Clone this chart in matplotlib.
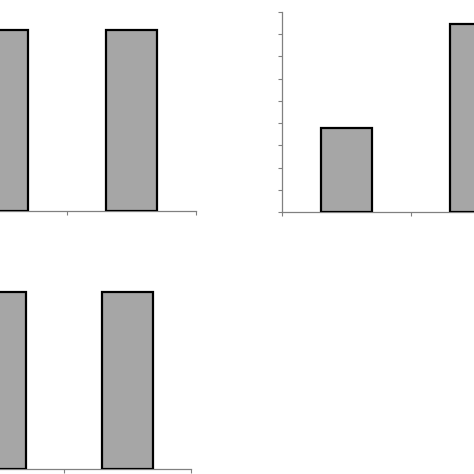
import matplotlib.pyplot as plt

# values (no labels visible, scale 0-9 as on the visible y axis)
categories = [0.5, 1.5]
top_left = [8.15, 8.15]
top_right = [3.78, 8.45]
bottom_left = [8.09, 8.09]

fig = plt.figure(figsize=(4.74, 4.74), dpi=100)

W = 474.0
# axes placed in pixel units; the figure crops the left part of the left panels
panels = [
    (top_left, [-62 / W, (W - 211) / W, 258 / W, 200 / W]),
    (top_right, [282 / W, (W - 212) / W, 258 / W, 200 / W]),
    (bottom_left, [-63 / W, (W - 469) / W, 254 / W, 197 / W]),
]

for values, rect in panels:
    ax = fig.add_axes(rect)
    ax.bar(categories, values, width=0.4, color='#a6a6a6', edgecolor='black', linewidth=1.6, zorder=3)
    ax.set_xlim(0, 2)
    ax.set_ylim(0, 9)
    ax.set_xticks([0, 1, 2])
    ax.set_yticks(range(10))
    ax.set_xticklabels([])
    ax.set_yticklabels([])
    for side in ['top', 'right']:
        ax.spines[side].set_visible(False)
    for side in ['bottom', 'left']:
        ax.spines[side].set_color('#808080')
        ax.spines[side].set_linewidth(0.9)
    ax.tick_params(direction='out', length=3, width=0.8, color='#808080')
    ax.patch.set_alpha(0)

fig.savefig('out.png', dpi=100)
